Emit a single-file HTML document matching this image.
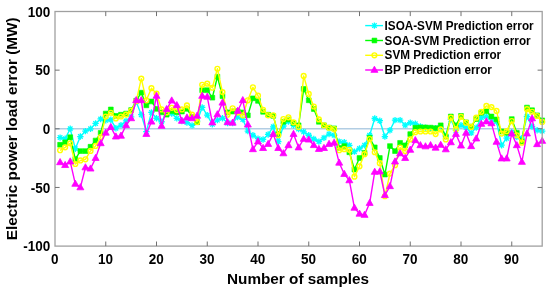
<!DOCTYPE html>
<html><head><meta charset="utf-8"><style>
html,body{margin:0;padding:0;background:#fff;}
svg{display:block;}
text{font-family:'Liberation Sans',Arial,sans-serif;font-weight:bold;fill:#000;}
</style></head><body>
<svg width="550" height="292" viewBox="0 0 550 292">
<rect width="550" height="292" fill="#fff"/>
<line x1="55.0" y1="128.80" x2="542.2" y2="128.80" stroke="#b2cde3" stroke-width="1.6"/>
<polyline points="60.08,137.60 65.15,138.77 70.22,128.80 75.30,148.74 80.38,136.54 85.45,131.15 90.53,128.80 95.60,123.40 100.68,118.95 105.75,120.24 110.83,119.77 115.90,128.21 120.98,125.16 126.05,120.94 131.12,116.84 136.20,101.82 141.28,114.72 146.35,131.62 151.43,112.38 156.50,118.24 161.57,121.76 166.65,112.38 171.73,113.43 176.80,118.36 181.88,120.94 186.95,122.58 192.03,125.40 197.10,121.18 202.18,107.45 207.25,115.08 212.33,124.34 217.40,120.12 222.47,118.24 227.55,122.94 232.62,122.94 237.70,117.07 242.78,119.42 247.85,131.03 252.93,135.25 258.00,138.65 263.08,139.47 268.15,134.43 273.23,126.81 278.30,141.70 283.38,125.98 288.45,121.53 293.52,125.28 298.60,129.03 303.68,131.85 308.75,135.25 313.82,139.01 318.90,141.59 323.98,137.83 329.05,134.08 334.12,135.25 339.20,141.59 344.28,142.29 349.35,145.34 354.43,151.67 359.50,148.51 364.57,145.34 369.65,135.25 374.73,118.48 379.80,120.71 384.88,136.54 389.95,130.21 395.03,120.12 400.10,120.12 405.18,125.16 410.25,122.70 415.32,123.76 420.40,126.45 425.48,127.63 430.55,128.21 435.62,128.21 440.70,127.04 445.78,135.84 450.85,119.42 455.93,130.44 461.00,125.28 466.07,127.63 471.15,132.91 476.23,127.63 481.30,117.77 486.38,116.48 491.45,119.42 496.53,121.76 501.60,145.22 506.68,138.18 511.75,132.32 516.83,137.01 521.90,138.18 526.98,116.48 532.05,126.45 537.12,130.32 542.20,131.15" fill="none" stroke="#00ffff" stroke-width="1.4" stroke-linejoin="round"/>
<path d="M56.88,137.60h6.40M60.08,134.40v6.40M57.81,135.33l4.53,4.53M57.81,139.86l4.53,-4.53M61.95,138.77h6.40M65.15,135.57v6.40M62.89,136.51l4.53,4.53M62.89,141.03l4.53,-4.53M67.02,128.80h6.40M70.22,125.60v6.40M67.96,126.54l4.53,4.53M67.96,131.06l4.53,-4.53M72.10,148.74h6.40M75.30,145.54v6.40M73.04,146.48l4.53,4.53M73.04,151.00l4.53,-4.53M77.17,136.54h6.40M80.38,133.34v6.40M78.11,134.28l4.53,4.53M78.11,138.80l4.53,-4.53M82.25,131.15h6.40M85.45,127.95v6.40M83.19,128.88l4.53,4.53M83.19,133.41l4.53,-4.53M87.33,128.80h6.40M90.53,125.60v6.40M88.26,126.54l4.53,4.53M88.26,131.06l4.53,-4.53M92.40,123.40h6.40M95.60,120.20v6.40M93.34,121.14l4.53,4.53M93.34,125.67l4.53,-4.53M97.48,118.95h6.40M100.68,115.75v6.40M98.41,116.68l4.53,4.53M98.41,121.21l4.53,-4.53M102.55,120.24h6.40M105.75,117.04v6.40M103.49,117.97l4.53,4.53M103.49,122.50l4.53,-4.53M107.62,119.77h6.40M110.83,116.57v6.40M108.56,117.51l4.53,4.53M108.56,122.03l4.53,-4.53M112.70,128.21h6.40M115.90,125.01v6.40M113.64,125.95l4.53,4.53M113.64,130.48l4.53,-4.53M117.78,125.16h6.40M120.98,121.96v6.40M118.71,122.90l4.53,4.53M118.71,127.43l4.53,-4.53M122.85,120.94h6.40M126.05,117.74v6.40M123.79,118.68l4.53,4.53M123.79,123.20l4.53,-4.53M127.92,116.84h6.40M131.12,113.64v6.40M128.86,114.57l4.53,4.53M128.86,119.10l4.53,-4.53M133.00,101.82h6.40M136.20,98.62v6.40M133.94,99.56l4.53,4.53M133.94,104.08l4.53,-4.53M138.08,114.72h6.40M141.28,111.52v6.40M139.01,112.46l4.53,4.53M139.01,116.99l4.53,-4.53M143.15,131.62h6.40M146.35,128.42v6.40M144.09,129.35l4.53,4.53M144.09,133.88l4.53,-4.53M148.23,112.38h6.40M151.43,109.18v6.40M149.16,110.12l4.53,4.53M149.16,114.64l4.53,-4.53M153.30,118.24h6.40M156.50,115.04v6.40M154.24,115.98l4.53,4.53M154.24,120.51l4.53,-4.53M158.38,121.76h6.40M161.57,118.56v6.40M159.31,119.50l4.53,4.53M159.31,124.02l4.53,-4.53M163.45,112.38h6.40M166.65,109.18v6.40M164.39,110.12l4.53,4.53M164.39,114.64l4.53,-4.53M168.53,113.43h6.40M171.73,110.23v6.40M169.46,111.17l4.53,4.53M169.46,115.70l4.53,-4.53M173.60,118.36h6.40M176.80,115.16v6.40M174.54,116.10l4.53,4.53M174.54,120.62l4.53,-4.53M178.68,120.94h6.40M181.88,117.74v6.40M179.61,118.68l4.53,4.53M179.61,123.20l4.53,-4.53M183.75,122.58h6.40M186.95,119.38v6.40M184.69,120.32l4.53,4.53M184.69,124.85l4.53,-4.53M188.83,125.40h6.40M192.03,122.20v6.40M189.76,123.14l4.53,4.53M189.76,127.66l4.53,-4.53M193.90,121.18h6.40M197.10,117.98v6.40M194.84,118.91l4.53,4.53M194.84,123.44l4.53,-4.53M198.98,107.45h6.40M202.18,104.25v6.40M199.91,105.19l4.53,4.53M199.91,109.71l4.53,-4.53M204.05,115.08h6.40M207.25,111.88v6.40M204.99,112.81l4.53,4.53M204.99,117.34l4.53,-4.53M209.13,124.34h6.40M212.33,121.14v6.40M210.06,122.08l4.53,4.53M210.06,126.61l4.53,-4.53M214.20,120.12h6.40M217.40,116.92v6.40M215.14,117.86l4.53,4.53M215.14,122.38l4.53,-4.53M219.28,118.24h6.40M222.47,115.04v6.40M220.21,115.98l4.53,4.53M220.21,120.51l4.53,-4.53M224.35,122.94h6.40M227.55,119.74v6.40M225.29,120.67l4.53,4.53M225.29,125.20l4.53,-4.53M229.43,122.94h6.40M232.62,119.74v6.40M230.36,120.67l4.53,4.53M230.36,125.20l4.53,-4.53M234.50,117.07h6.40M237.70,113.87v6.40M235.44,114.81l4.53,4.53M235.44,119.33l4.53,-4.53M239.58,119.42h6.40M242.78,116.22v6.40M240.51,117.15l4.53,4.53M240.51,121.68l4.53,-4.53M244.65,131.03h6.40M247.85,127.83v6.40M245.59,128.77l4.53,4.53M245.59,133.29l4.53,-4.53M249.73,135.25h6.40M252.93,132.05v6.40M250.66,132.99l4.53,4.53M250.66,137.51l4.53,-4.53M254.80,138.65h6.40M258.00,135.45v6.40M255.74,136.39l4.53,4.53M255.74,140.92l4.53,-4.53M259.88,139.47h6.40M263.08,136.27v6.40M260.81,137.21l4.53,4.53M260.81,141.74l4.53,-4.53M264.95,134.43h6.40M268.15,131.23v6.40M265.89,132.17l4.53,4.53M265.89,136.69l4.53,-4.53M270.03,126.81h6.40M273.23,123.61v6.40M270.96,124.54l4.53,4.53M270.96,129.07l4.53,-4.53M275.10,141.70h6.40M278.30,138.50v6.40M276.04,139.44l4.53,4.53M276.04,143.97l4.53,-4.53M280.18,125.98h6.40M283.38,122.78v6.40M281.11,123.72l4.53,4.53M281.11,128.25l4.53,-4.53M285.25,121.53h6.40M288.45,118.33v6.40M286.19,119.26l4.53,4.53M286.19,123.79l4.53,-4.53M290.32,125.28h6.40M293.52,122.08v6.40M291.26,123.02l4.53,4.53M291.26,127.54l4.53,-4.53M295.40,129.03h6.40M298.60,125.83v6.40M296.34,126.77l4.53,4.53M296.34,131.30l4.53,-4.53M300.48,131.85h6.40M303.68,128.65v6.40M301.41,129.59l4.53,4.53M301.41,134.11l4.53,-4.53M305.55,135.25h6.40M308.75,132.05v6.40M306.49,132.99l4.53,4.53M306.49,137.51l4.53,-4.53M310.62,139.01h6.40M313.82,135.81v6.40M311.56,136.74l4.53,4.53M311.56,141.27l4.53,-4.53M315.70,141.59h6.40M318.90,138.39v6.40M316.64,139.32l4.53,4.53M316.64,143.85l4.53,-4.53M320.78,137.83h6.40M323.98,134.63v6.40M321.71,135.57l4.53,4.53M321.71,140.09l4.53,-4.53M325.85,134.08h6.40M329.05,130.88v6.40M326.79,131.82l4.53,4.53M326.79,136.34l4.53,-4.53M330.93,135.25h6.40M334.12,132.05v6.40M331.86,132.99l4.53,4.53M331.86,137.51l4.53,-4.53M336.00,141.59h6.40M339.20,138.39v6.40M336.94,139.32l4.53,4.53M336.94,143.85l4.53,-4.53M341.08,142.29h6.40M344.28,139.09v6.40M342.01,140.03l4.53,4.53M342.01,144.55l4.53,-4.53M346.15,145.34h6.40M349.35,142.14v6.40M347.09,143.08l4.53,4.53M347.09,147.60l4.53,-4.53M351.23,151.67h6.40M354.43,148.47v6.40M352.16,149.41l4.53,4.53M352.16,153.94l4.53,-4.53M356.30,148.51h6.40M359.50,145.31v6.40M357.24,146.24l4.53,4.53M357.24,150.77l4.53,-4.53M361.38,145.34h6.40M364.57,142.14v6.40M362.31,143.08l4.53,4.53M362.31,147.60l4.53,-4.53M366.45,135.25h6.40M369.65,132.05v6.40M367.39,132.99l4.53,4.53M367.39,137.51l4.53,-4.53M371.53,118.48h6.40M374.73,115.28v6.40M372.46,116.21l4.53,4.53M372.46,120.74l4.53,-4.53M376.60,120.71h6.40M379.80,117.51v6.40M377.54,118.44l4.53,4.53M377.54,122.97l4.53,-4.53M381.68,136.54h6.40M384.88,133.34v6.40M382.61,134.28l4.53,4.53M382.61,138.80l4.53,-4.53M386.75,130.21h6.40M389.95,127.01v6.40M387.69,127.94l4.53,4.53M387.69,132.47l4.53,-4.53M391.83,120.12h6.40M395.03,116.92v6.40M392.76,117.86l4.53,4.53M392.76,122.38l4.53,-4.53M396.90,120.12h6.40M400.10,116.92v6.40M397.84,117.86l4.53,4.53M397.84,122.38l4.53,-4.53M401.98,125.16h6.40M405.18,121.96v6.40M402.91,122.90l4.53,4.53M402.91,127.43l4.53,-4.53M407.05,122.70h6.40M410.25,119.50v6.40M407.99,120.44l4.53,4.53M407.99,124.96l4.53,-4.53M412.12,123.76h6.40M415.32,120.56v6.40M413.06,121.49l4.53,4.53M413.06,126.02l4.53,-4.53M417.20,126.45h6.40M420.40,123.25v6.40M418.14,124.19l4.53,4.53M418.14,128.72l4.53,-4.53M422.28,127.63h6.40M425.48,124.43v6.40M423.21,125.36l4.53,4.53M423.21,129.89l4.53,-4.53M427.35,128.21h6.40M430.55,125.01v6.40M428.29,125.95l4.53,4.53M428.29,130.48l4.53,-4.53M432.43,128.21h6.40M435.62,125.01v6.40M433.36,125.95l4.53,4.53M433.36,130.48l4.53,-4.53M437.50,127.04h6.40M440.70,123.84v6.40M438.44,124.78l4.53,4.53M438.44,129.30l4.53,-4.53M442.58,135.84h6.40M445.78,132.64v6.40M443.51,133.58l4.53,4.53M443.51,138.10l4.53,-4.53M447.65,119.42h6.40M450.85,116.22v6.40M448.59,117.15l4.53,4.53M448.59,121.68l4.53,-4.53M452.73,130.44h6.40M455.93,127.24v6.40M453.66,128.18l4.53,4.53M453.66,132.70l4.53,-4.53M457.80,125.28h6.40M461.00,122.08v6.40M458.74,123.02l4.53,4.53M458.74,127.54l4.53,-4.53M462.88,127.63h6.40M466.07,124.43v6.40M463.81,125.36l4.53,4.53M463.81,129.89l4.53,-4.53M467.95,132.91h6.40M471.15,129.71v6.40M468.89,130.64l4.53,4.53M468.89,135.17l4.53,-4.53M473.03,127.63h6.40M476.23,124.43v6.40M473.96,125.36l4.53,4.53M473.96,129.89l4.53,-4.53M478.10,117.77h6.40M481.30,114.57v6.40M479.04,115.51l4.53,4.53M479.04,120.04l4.53,-4.53M483.18,116.48h6.40M486.38,113.28v6.40M484.11,114.22l4.53,4.53M484.11,118.75l4.53,-4.53M488.25,119.42h6.40M491.45,116.22v6.40M489.19,117.15l4.53,4.53M489.19,121.68l4.53,-4.53M493.33,121.76h6.40M496.53,118.56v6.40M494.26,119.50l4.53,4.53M494.26,124.02l4.53,-4.53M498.40,145.22h6.40M501.60,142.02v6.40M499.34,142.96l4.53,4.53M499.34,147.48l4.53,-4.53M503.48,138.18h6.40M506.68,134.98v6.40M504.41,135.92l4.53,4.53M504.41,140.45l4.53,-4.53M508.55,132.32h6.40M511.75,129.12v6.40M509.49,130.06l4.53,4.53M509.49,134.58l4.53,-4.53M513.62,137.01h6.40M516.83,133.81v6.40M514.56,134.75l4.53,4.53M514.56,139.27l4.53,-4.53M518.70,138.18h6.40M521.90,134.98v6.40M519.64,135.92l4.53,4.53M519.64,140.45l4.53,-4.53M523.77,116.48h6.40M526.98,113.28v6.40M524.71,114.22l4.53,4.53M524.71,118.75l4.53,-4.53M528.85,126.45h6.40M532.05,123.25v6.40M529.79,124.19l4.53,4.53M529.79,128.72l4.53,-4.53M533.92,130.32h6.40M537.12,127.12v6.40M534.86,128.06l4.53,4.53M534.86,132.59l4.53,-4.53M539.00,131.15h6.40M542.20,127.95v6.40M539.94,128.88l4.53,4.53M539.94,133.41l4.53,-4.53" stroke="#00ffff" stroke-width="1.3" fill="none"/>
<polyline points="60.08,144.75 65.15,142.29 70.22,137.25 75.30,159.06 80.38,151.09 85.45,151.09 90.53,146.75 95.60,140.53 100.68,132.91 105.75,113.55 110.83,109.45 115.90,115.90 120.98,114.72 126.05,113.55 131.12,110.03 136.20,100.65 141.28,92.67 146.35,105.34 151.43,101.47 156.50,108.86 161.57,112.38 166.65,114.72 171.73,111.21 176.80,112.38 181.88,111.56 186.95,108.86 192.03,117.07 197.10,122.23 202.18,90.21 207.25,90.21 212.33,97.72 217.40,76.72 222.47,96.07 227.55,112.38 232.62,111.56 237.70,111.21 242.78,112.38 247.85,115.31 252.93,98.30 258.00,100.88 263.08,111.79 268.15,114.72 273.23,115.90 278.30,134.08 283.38,121.76 288.45,119.42 293.52,122.94 298.60,125.28 303.68,88.92 308.75,100.30 313.82,108.98 318.90,121.76 323.98,125.28 329.05,127.63 334.12,128.33 339.20,147.80 344.28,146.04 349.35,152.26 354.43,169.50 359.50,158.01 364.57,152.85 369.65,137.83 374.73,147.33 379.80,158.01 384.88,174.55 389.95,146.04 395.03,151.09 400.10,142.88 405.18,145.34 410.25,134.08 415.32,127.74 420.40,127.39 425.48,127.39 430.55,127.63 435.62,128.21 440.70,125.28 445.78,136.54 450.85,116.48 455.93,125.28 461.00,115.90 466.07,122.35 471.15,126.57 476.23,119.06 481.30,112.85 486.38,111.21 491.45,116.48 496.53,119.42 501.60,131.50 506.68,132.79 511.75,119.06 516.83,132.79 521.90,141.59 526.98,107.57 532.05,110.27 537.12,115.31 542.20,120.35" fill="none" stroke="#00ff00" stroke-width="1.4" stroke-linejoin="round"/>
<path d="M57.68,142.35h4.80v4.80h-4.80zM62.75,139.89h4.80v4.80h-4.80zM67.82,134.85h4.80v4.80h-4.80zM72.90,156.66h4.80v4.80h-4.80zM77.97,148.69h4.80v4.80h-4.80zM83.05,148.69h4.80v4.80h-4.80zM88.12,144.35h4.80v4.80h-4.80zM93.20,138.13h4.80v4.80h-4.80zM98.28,130.51h4.80v4.80h-4.80zM103.35,111.15h4.80v4.80h-4.80zM108.42,107.05h4.80v4.80h-4.80zM113.50,113.50h4.80v4.80h-4.80zM118.58,112.32h4.80v4.80h-4.80zM123.65,111.15h4.80v4.80h-4.80zM128.72,107.63h4.80v4.80h-4.80zM133.80,98.25h4.80v4.80h-4.80zM138.88,90.27h4.80v4.80h-4.80zM143.95,102.94h4.80v4.80h-4.80zM149.03,99.07h4.80v4.80h-4.80zM154.10,106.46h4.80v4.80h-4.80zM159.17,109.98h4.80v4.80h-4.80zM164.25,112.32h4.80v4.80h-4.80zM169.33,108.81h4.80v4.80h-4.80zM174.40,109.98h4.80v4.80h-4.80zM179.47,109.16h4.80v4.80h-4.80zM184.55,106.46h4.80v4.80h-4.80zM189.62,114.67h4.80v4.80h-4.80zM194.70,119.83h4.80v4.80h-4.80zM199.78,87.81h4.80v4.80h-4.80zM204.85,87.81h4.80v4.80h-4.80zM209.93,95.32h4.80v4.80h-4.80zM215.00,74.32h4.80v4.80h-4.80zM220.07,93.67h4.80v4.80h-4.80zM225.15,109.98h4.80v4.80h-4.80zM230.22,109.16h4.80v4.80h-4.80zM235.30,108.81h4.80v4.80h-4.80zM240.38,109.98h4.80v4.80h-4.80zM245.45,112.91h4.80v4.80h-4.80zM250.53,95.90h4.80v4.80h-4.80zM255.60,98.48h4.80v4.80h-4.80zM260.68,109.39h4.80v4.80h-4.80zM265.75,112.32h4.80v4.80h-4.80zM270.83,113.50h4.80v4.80h-4.80zM275.90,131.68h4.80v4.80h-4.80zM280.98,119.36h4.80v4.80h-4.80zM286.05,117.02h4.80v4.80h-4.80zM291.12,120.54h4.80v4.80h-4.80zM296.20,122.88h4.80v4.80h-4.80zM301.28,86.52h4.80v4.80h-4.80zM306.35,97.90h4.80v4.80h-4.80zM311.43,106.58h4.80v4.80h-4.80zM316.50,119.36h4.80v4.80h-4.80zM321.58,122.88h4.80v4.80h-4.80zM326.65,125.23h4.80v4.80h-4.80zM331.73,125.93h4.80v4.80h-4.80zM336.80,145.40h4.80v4.80h-4.80zM341.88,143.64h4.80v4.80h-4.80zM346.95,149.86h4.80v4.80h-4.80zM352.03,167.10h4.80v4.80h-4.80zM357.10,155.61h4.80v4.80h-4.80zM362.18,150.45h4.80v4.80h-4.80zM367.25,135.43h4.80v4.80h-4.80zM372.33,144.93h4.80v4.80h-4.80zM377.40,155.61h4.80v4.80h-4.80zM382.48,172.15h4.80v4.80h-4.80zM387.55,143.64h4.80v4.80h-4.80zM392.63,148.69h4.80v4.80h-4.80zM397.70,140.48h4.80v4.80h-4.80zM402.78,142.94h4.80v4.80h-4.80zM407.85,131.68h4.80v4.80h-4.80zM412.93,125.34h4.80v4.80h-4.80zM418.00,124.99h4.80v4.80h-4.80zM423.08,124.99h4.80v4.80h-4.80zM428.15,125.23h4.80v4.80h-4.80zM433.23,125.81h4.80v4.80h-4.80zM438.30,122.88h4.80v4.80h-4.80zM443.38,134.14h4.80v4.80h-4.80zM448.45,114.08h4.80v4.80h-4.80zM453.53,122.88h4.80v4.80h-4.80zM458.60,113.50h4.80v4.80h-4.80zM463.68,119.95h4.80v4.80h-4.80zM468.75,124.17h4.80v4.80h-4.80zM473.83,116.66h4.80v4.80h-4.80zM478.90,110.45h4.80v4.80h-4.80zM483.98,108.81h4.80v4.80h-4.80zM489.05,114.08h4.80v4.80h-4.80zM494.13,117.02h4.80v4.80h-4.80zM499.20,129.10h4.80v4.80h-4.80zM504.28,130.39h4.80v4.80h-4.80zM509.35,116.66h4.80v4.80h-4.80zM514.43,130.39h4.80v4.80h-4.80zM519.50,139.19h4.80v4.80h-4.80zM524.58,105.17h4.80v4.80h-4.80zM529.65,107.87h4.80v4.80h-4.80zM534.73,112.91h4.80v4.80h-4.80zM539.80,117.95h4.80v4.80h-4.80z" fill="#00ff00" stroke="#00ff00" stroke-width="0.6"/>
<polyline points="60.08,150.27 65.15,147.33 70.22,143.35 75.30,163.99 80.38,160.47 85.45,159.30 90.53,150.97 95.60,145.93 100.68,137.01 105.75,116.48 110.83,112.73 115.90,118.48 120.98,116.48 126.05,114.61 131.12,110.74 136.20,101.23 141.28,78.60 146.35,100.30 151.43,88.21 156.50,93.61 161.57,109.45 166.65,112.38 171.73,107.80 176.80,110.03 181.88,109.45 186.95,105.34 192.03,114.72 197.10,122.00 202.18,84.81 207.25,83.64 212.33,87.75 217.40,68.74 222.47,92.09 227.55,114.72 232.62,108.27 237.70,112.38 242.78,115.31 247.85,100.30 252.93,87.28 258.00,95.72 263.08,109.80 268.15,115.31 273.23,115.31 278.30,135.25 283.38,119.06 288.45,117.30 293.52,122.35 298.60,127.04 303.68,75.90 308.75,93.96 313.82,106.51 318.90,119.42 323.98,125.28 329.05,127.74 334.12,129.03 339.20,150.27 344.28,149.21 349.35,149.80 354.43,176.66 359.50,166.34 364.57,154.14 369.65,139.01 374.73,152.26 379.80,163.17 384.88,196.25 389.95,173.61 395.03,165.16 400.10,147.57 405.18,151.09 410.25,139.36 415.32,132.20 420.40,131.50 425.48,131.50 430.55,131.50 435.62,134.08 440.70,129.39 445.78,139.47 450.85,117.66 455.93,129.15 461.00,116.84 466.07,122.70 471.15,126.92 476.23,117.66 481.30,111.79 486.38,105.93 491.45,107.10 496.53,110.97 501.60,133.61 506.68,131.15 511.75,121.06 516.83,135.25 521.90,142.64 526.98,109.21 532.05,111.79 537.12,116.01 542.20,121.88" fill="none" stroke="#ffff00" stroke-width="1.4" stroke-linejoin="round"/>
<circle cx="60.08" cy="150.27" r="2.4" fill="none" stroke="#ffff00" stroke-width="1.4"/><circle cx="65.15" cy="147.33" r="2.4" fill="none" stroke="#ffff00" stroke-width="1.4"/><circle cx="70.22" cy="143.35" r="2.4" fill="none" stroke="#ffff00" stroke-width="1.4"/><circle cx="75.30" cy="163.99" r="2.4" fill="none" stroke="#ffff00" stroke-width="1.4"/><circle cx="80.38" cy="160.47" r="2.4" fill="none" stroke="#ffff00" stroke-width="1.4"/><circle cx="85.45" cy="159.30" r="2.4" fill="none" stroke="#ffff00" stroke-width="1.4"/><circle cx="90.53" cy="150.97" r="2.4" fill="none" stroke="#ffff00" stroke-width="1.4"/><circle cx="95.60" cy="145.93" r="2.4" fill="none" stroke="#ffff00" stroke-width="1.4"/><circle cx="100.68" cy="137.01" r="2.4" fill="none" stroke="#ffff00" stroke-width="1.4"/><circle cx="105.75" cy="116.48" r="2.4" fill="none" stroke="#ffff00" stroke-width="1.4"/><circle cx="110.83" cy="112.73" r="2.4" fill="none" stroke="#ffff00" stroke-width="1.4"/><circle cx="115.90" cy="118.48" r="2.4" fill="none" stroke="#ffff00" stroke-width="1.4"/><circle cx="120.98" cy="116.48" r="2.4" fill="none" stroke="#ffff00" stroke-width="1.4"/><circle cx="126.05" cy="114.61" r="2.4" fill="none" stroke="#ffff00" stroke-width="1.4"/><circle cx="131.12" cy="110.74" r="2.4" fill="none" stroke="#ffff00" stroke-width="1.4"/><circle cx="136.20" cy="101.23" r="2.4" fill="none" stroke="#ffff00" stroke-width="1.4"/><circle cx="141.28" cy="78.60" r="2.4" fill="none" stroke="#ffff00" stroke-width="1.4"/><circle cx="146.35" cy="100.30" r="2.4" fill="none" stroke="#ffff00" stroke-width="1.4"/><circle cx="151.43" cy="88.21" r="2.4" fill="none" stroke="#ffff00" stroke-width="1.4"/><circle cx="156.50" cy="93.61" r="2.4" fill="none" stroke="#ffff00" stroke-width="1.4"/><circle cx="161.57" cy="109.45" r="2.4" fill="none" stroke="#ffff00" stroke-width="1.4"/><circle cx="166.65" cy="112.38" r="2.4" fill="none" stroke="#ffff00" stroke-width="1.4"/><circle cx="171.73" cy="107.80" r="2.4" fill="none" stroke="#ffff00" stroke-width="1.4"/><circle cx="176.80" cy="110.03" r="2.4" fill="none" stroke="#ffff00" stroke-width="1.4"/><circle cx="181.88" cy="109.45" r="2.4" fill="none" stroke="#ffff00" stroke-width="1.4"/><circle cx="186.95" cy="105.34" r="2.4" fill="none" stroke="#ffff00" stroke-width="1.4"/><circle cx="192.03" cy="114.72" r="2.4" fill="none" stroke="#ffff00" stroke-width="1.4"/><circle cx="197.10" cy="122.00" r="2.4" fill="none" stroke="#ffff00" stroke-width="1.4"/><circle cx="202.18" cy="84.81" r="2.4" fill="none" stroke="#ffff00" stroke-width="1.4"/><circle cx="207.25" cy="83.64" r="2.4" fill="none" stroke="#ffff00" stroke-width="1.4"/><circle cx="212.33" cy="87.75" r="2.4" fill="none" stroke="#ffff00" stroke-width="1.4"/><circle cx="217.40" cy="68.74" r="2.4" fill="none" stroke="#ffff00" stroke-width="1.4"/><circle cx="222.47" cy="92.09" r="2.4" fill="none" stroke="#ffff00" stroke-width="1.4"/><circle cx="227.55" cy="114.72" r="2.4" fill="none" stroke="#ffff00" stroke-width="1.4"/><circle cx="232.62" cy="108.27" r="2.4" fill="none" stroke="#ffff00" stroke-width="1.4"/><circle cx="237.70" cy="112.38" r="2.4" fill="none" stroke="#ffff00" stroke-width="1.4"/><circle cx="242.78" cy="115.31" r="2.4" fill="none" stroke="#ffff00" stroke-width="1.4"/><circle cx="247.85" cy="100.30" r="2.4" fill="none" stroke="#ffff00" stroke-width="1.4"/><circle cx="252.93" cy="87.28" r="2.4" fill="none" stroke="#ffff00" stroke-width="1.4"/><circle cx="258.00" cy="95.72" r="2.4" fill="none" stroke="#ffff00" stroke-width="1.4"/><circle cx="263.08" cy="109.80" r="2.4" fill="none" stroke="#ffff00" stroke-width="1.4"/><circle cx="268.15" cy="115.31" r="2.4" fill="none" stroke="#ffff00" stroke-width="1.4"/><circle cx="273.23" cy="115.31" r="2.4" fill="none" stroke="#ffff00" stroke-width="1.4"/><circle cx="278.30" cy="135.25" r="2.4" fill="none" stroke="#ffff00" stroke-width="1.4"/><circle cx="283.38" cy="119.06" r="2.4" fill="none" stroke="#ffff00" stroke-width="1.4"/><circle cx="288.45" cy="117.30" r="2.4" fill="none" stroke="#ffff00" stroke-width="1.4"/><circle cx="293.52" cy="122.35" r="2.4" fill="none" stroke="#ffff00" stroke-width="1.4"/><circle cx="298.60" cy="127.04" r="2.4" fill="none" stroke="#ffff00" stroke-width="1.4"/><circle cx="303.68" cy="75.90" r="2.4" fill="none" stroke="#ffff00" stroke-width="1.4"/><circle cx="308.75" cy="93.96" r="2.4" fill="none" stroke="#ffff00" stroke-width="1.4"/><circle cx="313.82" cy="106.51" r="2.4" fill="none" stroke="#ffff00" stroke-width="1.4"/><circle cx="318.90" cy="119.42" r="2.4" fill="none" stroke="#ffff00" stroke-width="1.4"/><circle cx="323.98" cy="125.28" r="2.4" fill="none" stroke="#ffff00" stroke-width="1.4"/><circle cx="329.05" cy="127.74" r="2.4" fill="none" stroke="#ffff00" stroke-width="1.4"/><circle cx="334.12" cy="129.03" r="2.4" fill="none" stroke="#ffff00" stroke-width="1.4"/><circle cx="339.20" cy="150.27" r="2.4" fill="none" stroke="#ffff00" stroke-width="1.4"/><circle cx="344.28" cy="149.21" r="2.4" fill="none" stroke="#ffff00" stroke-width="1.4"/><circle cx="349.35" cy="149.80" r="2.4" fill="none" stroke="#ffff00" stroke-width="1.4"/><circle cx="354.43" cy="176.66" r="2.4" fill="none" stroke="#ffff00" stroke-width="1.4"/><circle cx="359.50" cy="166.34" r="2.4" fill="none" stroke="#ffff00" stroke-width="1.4"/><circle cx="364.57" cy="154.14" r="2.4" fill="none" stroke="#ffff00" stroke-width="1.4"/><circle cx="369.65" cy="139.01" r="2.4" fill="none" stroke="#ffff00" stroke-width="1.4"/><circle cx="374.73" cy="152.26" r="2.4" fill="none" stroke="#ffff00" stroke-width="1.4"/><circle cx="379.80" cy="163.17" r="2.4" fill="none" stroke="#ffff00" stroke-width="1.4"/><circle cx="384.88" cy="196.25" r="2.4" fill="none" stroke="#ffff00" stroke-width="1.4"/><circle cx="389.95" cy="173.61" r="2.4" fill="none" stroke="#ffff00" stroke-width="1.4"/><circle cx="395.03" cy="165.16" r="2.4" fill="none" stroke="#ffff00" stroke-width="1.4"/><circle cx="400.10" cy="147.57" r="2.4" fill="none" stroke="#ffff00" stroke-width="1.4"/><circle cx="405.18" cy="151.09" r="2.4" fill="none" stroke="#ffff00" stroke-width="1.4"/><circle cx="410.25" cy="139.36" r="2.4" fill="none" stroke="#ffff00" stroke-width="1.4"/><circle cx="415.32" cy="132.20" r="2.4" fill="none" stroke="#ffff00" stroke-width="1.4"/><circle cx="420.40" cy="131.50" r="2.4" fill="none" stroke="#ffff00" stroke-width="1.4"/><circle cx="425.48" cy="131.50" r="2.4" fill="none" stroke="#ffff00" stroke-width="1.4"/><circle cx="430.55" cy="131.50" r="2.4" fill="none" stroke="#ffff00" stroke-width="1.4"/><circle cx="435.62" cy="134.08" r="2.4" fill="none" stroke="#ffff00" stroke-width="1.4"/><circle cx="440.70" cy="129.39" r="2.4" fill="none" stroke="#ffff00" stroke-width="1.4"/><circle cx="445.78" cy="139.47" r="2.4" fill="none" stroke="#ffff00" stroke-width="1.4"/><circle cx="450.85" cy="117.66" r="2.4" fill="none" stroke="#ffff00" stroke-width="1.4"/><circle cx="455.93" cy="129.15" r="2.4" fill="none" stroke="#ffff00" stroke-width="1.4"/><circle cx="461.00" cy="116.84" r="2.4" fill="none" stroke="#ffff00" stroke-width="1.4"/><circle cx="466.07" cy="122.70" r="2.4" fill="none" stroke="#ffff00" stroke-width="1.4"/><circle cx="471.15" cy="126.92" r="2.4" fill="none" stroke="#ffff00" stroke-width="1.4"/><circle cx="476.23" cy="117.66" r="2.4" fill="none" stroke="#ffff00" stroke-width="1.4"/><circle cx="481.30" cy="111.79" r="2.4" fill="none" stroke="#ffff00" stroke-width="1.4"/><circle cx="486.38" cy="105.93" r="2.4" fill="none" stroke="#ffff00" stroke-width="1.4"/><circle cx="491.45" cy="107.10" r="2.4" fill="none" stroke="#ffff00" stroke-width="1.4"/><circle cx="496.53" cy="110.97" r="2.4" fill="none" stroke="#ffff00" stroke-width="1.4"/><circle cx="501.60" cy="133.61" r="2.4" fill="none" stroke="#ffff00" stroke-width="1.4"/><circle cx="506.68" cy="131.15" r="2.4" fill="none" stroke="#ffff00" stroke-width="1.4"/><circle cx="511.75" cy="121.06" r="2.4" fill="none" stroke="#ffff00" stroke-width="1.4"/><circle cx="516.83" cy="135.25" r="2.4" fill="none" stroke="#ffff00" stroke-width="1.4"/><circle cx="521.90" cy="142.64" r="2.4" fill="none" stroke="#ffff00" stroke-width="1.4"/><circle cx="526.98" cy="109.21" r="2.4" fill="none" stroke="#ffff00" stroke-width="1.4"/><circle cx="532.05" cy="111.79" r="2.4" fill="none" stroke="#ffff00" stroke-width="1.4"/><circle cx="537.12" cy="116.01" r="2.4" fill="none" stroke="#ffff00" stroke-width="1.4"/><circle cx="542.20" cy="121.88" r="2.4" fill="none" stroke="#ffff00" stroke-width="1.4"/>
<polyline points="60.08,162.35 65.15,165.16 70.22,161.64 75.30,183.93 80.38,187.45 85.45,167.51 90.53,168.68 95.60,158.12 100.68,143.35 105.75,132.79 110.83,127.16 115.90,136.66 120.98,135.84 126.05,125.28 131.12,118.36 136.20,100.30 141.28,100.30 146.35,134.08 151.43,121.76 156.50,95.96 161.57,125.98 166.65,109.21 171.73,100.65 176.80,105.34 181.88,120.94 186.95,117.66 192.03,118.36 197.10,115.90 202.18,95.96 207.25,96.89 212.33,122.58 217.40,114.49 222.47,102.76 227.55,122.35 232.62,122.82 237.70,110.97 242.78,100.30 247.85,124.69 252.93,149.33 258.00,141.59 263.08,148.15 268.15,144.05 273.23,134.08 278.30,148.15 283.38,153.43 288.45,145.34 293.52,134.08 298.60,147.57 303.68,139.01 308.75,139.71 313.82,145.22 318.90,149.09 323.98,148.15 329.05,144.05 334.12,142.88 339.20,162.82 344.28,174.08 349.35,180.41 354.43,207.86 359.50,213.84 364.57,215.02 369.65,203.05 374.73,171.97 379.80,171.61 384.88,195.19 389.95,186.28 395.03,161.64 400.10,153.43 405.18,158.12 410.25,149.91 415.32,140.30 420.40,145.34 425.48,146.51 430.55,145.34 435.62,147.80 440.70,144.99 445.78,149.44 450.85,142.41 455.93,134.08 461.00,145.69 466.07,132.91 471.15,146.28 476.23,138.65 481.30,123.99 486.38,121.53 491.45,123.40 496.53,141.94 501.60,158.59 506.68,158.59 511.75,133.61 516.83,145.34 521.90,162.00 526.98,133.61 532.05,118.48 537.12,144.28 542.20,141.00" fill="none" stroke="#ff00ff" stroke-width="1.4" stroke-linejoin="round"/>
<path d="M60.08,158.55L63.57,164.70L56.58,164.70zM65.15,161.36L68.65,167.52L61.65,167.52zM70.22,157.84L73.72,164.00L66.73,164.00zM75.30,180.13L78.80,186.29L71.80,186.29zM80.38,183.65L83.87,189.81L76.88,189.81zM85.45,163.71L88.95,169.87L81.95,169.87zM90.53,164.88L94.02,171.04L87.03,171.04zM95.60,154.32L99.10,160.48L92.10,160.48zM100.68,139.55L104.17,145.70L97.18,145.70zM105.75,128.99L109.25,135.14L102.25,135.14zM110.83,123.36L114.32,129.51L107.33,129.51zM115.90,132.86L119.40,139.02L112.40,139.02zM120.98,132.04L124.47,138.19L117.48,138.19zM126.05,121.48L129.55,127.64L122.55,127.64zM131.12,114.56L134.62,120.72L127.63,120.72zM136.20,96.50L139.70,102.65L132.70,102.65zM141.28,96.50L144.77,102.65L137.78,102.65zM146.35,130.28L149.85,136.43L142.85,136.43zM151.43,117.96L154.92,124.12L147.93,124.12zM156.50,92.16L160.00,98.31L153.00,98.31zM161.57,122.18L165.07,128.34L158.08,128.34zM166.65,105.41L170.15,111.57L163.15,111.57zM171.73,96.85L175.22,103.00L168.23,103.00zM176.80,101.54L180.30,107.70L173.30,107.70zM181.88,117.14L185.37,123.30L178.38,123.30zM186.95,113.86L190.45,120.01L183.45,120.01zM192.03,114.56L195.52,120.72L188.53,120.72zM197.10,112.10L200.60,118.25L193.60,118.25zM202.18,92.16L205.67,98.31L198.68,98.31zM207.25,93.09L210.75,99.25L203.75,99.25zM212.33,118.78L215.82,124.94L208.83,124.94zM217.40,110.69L220.90,116.85L213.90,116.85zM222.47,98.96L225.97,105.12L218.98,105.12zM227.55,118.55L231.05,124.70L224.05,124.70zM232.62,119.02L236.12,125.17L229.13,125.17zM237.70,107.17L241.20,113.33L234.20,113.33zM242.78,96.50L246.27,102.65L239.28,102.65zM247.85,120.89L251.35,127.05L244.35,127.05zM252.93,145.53L256.42,151.68L249.43,151.68zM258.00,137.79L261.50,143.94L254.50,143.94zM263.08,144.35L266.57,150.51L259.58,150.51zM268.15,140.25L271.65,146.41L264.65,146.41zM273.23,130.28L276.72,136.43L269.73,136.43zM278.30,144.35L281.80,150.51L274.80,150.51zM283.38,149.63L286.87,155.79L279.88,155.79zM288.45,141.54L291.95,147.70L284.95,147.70zM293.52,130.28L297.02,136.43L290.03,136.43zM298.60,143.77L302.10,149.92L295.10,149.92zM303.68,135.21L307.17,141.36L300.18,141.36zM308.75,135.91L312.25,142.06L305.25,142.06zM313.82,141.42L317.32,147.58L310.33,147.58zM318.90,145.29L322.40,151.45L315.40,151.45zM323.98,144.35L327.47,150.51L320.48,150.51zM329.05,140.25L332.55,146.41L325.55,146.41zM334.12,139.08L337.62,145.23L330.63,145.23zM339.20,159.02L342.70,165.17L335.70,165.17zM344.28,170.28L347.77,176.43L340.78,176.43zM349.35,176.61L352.85,182.77L345.85,182.77zM354.43,204.06L357.92,210.22L350.93,210.22zM359.50,210.04L363.00,216.20L356.00,216.20zM364.57,211.22L368.07,217.37L361.08,217.37zM369.65,199.25L373.15,205.41L366.15,205.41zM374.73,168.17L378.22,174.32L371.23,174.32zM379.80,167.81L383.30,173.97L376.30,173.97zM384.88,191.39L388.37,197.55L381.38,197.55zM389.95,182.48L393.45,188.63L386.45,188.63zM395.03,157.84L398.52,164.00L391.53,164.00zM400.10,149.63L403.60,155.79L396.60,155.79zM405.18,154.32L408.67,160.48L401.68,160.48zM410.25,146.11L413.75,152.27L406.75,152.27zM415.32,136.50L418.82,142.65L411.83,142.65zM420.40,141.54L423.90,147.70L416.90,147.70zM425.48,142.71L428.97,148.87L421.98,148.87zM430.55,141.54L434.05,147.70L427.05,147.70zM435.62,144.00L439.12,150.16L432.13,150.16zM440.70,141.19L444.20,147.34L437.20,147.34zM445.78,145.64L449.27,151.80L442.28,151.80zM450.85,138.61L454.35,144.76L447.35,144.76zM455.93,130.28L459.42,136.43L452.43,136.43zM461.00,141.89L464.50,148.05L457.50,148.05zM466.07,129.11L469.57,135.26L462.58,135.26zM471.15,142.48L474.65,148.63L467.65,148.63zM476.23,134.85L479.72,141.01L472.73,141.01zM481.30,120.19L484.80,126.35L477.80,126.35zM486.38,117.73L489.87,123.88L482.88,123.88zM491.45,119.60L494.95,125.76L487.95,125.76zM496.53,138.14L500.02,144.29L493.03,144.29zM501.60,154.79L505.10,160.95L498.10,160.95zM506.68,154.79L510.17,160.95L503.18,160.95zM511.75,129.81L515.25,135.97L508.25,135.97zM516.83,141.54L520.32,147.70L513.33,147.70zM521.90,158.20L525.40,164.35L518.40,164.35zM526.98,129.81L530.47,135.97L523.48,135.97zM532.05,114.68L535.55,120.83L528.55,120.83zM537.12,140.48L540.62,146.64L533.63,146.64zM542.20,137.20L545.70,143.36L538.70,143.36z" fill="#ff00ff" stroke="#ff00ff" stroke-width="0.8" stroke-linejoin="round"/>

<rect x="55.0" y="11.5" width="487.20" height="234.60" fill="none" stroke="#a0a0a0" stroke-width="1.3"/>
<path d="M105.75,246.1v-4.6M105.75,11.5v4.6M156.50,246.1v-4.6M156.50,11.5v4.6M207.25,246.1v-4.6M207.25,11.5v4.6M258.00,246.1v-4.6M258.00,11.5v4.6M308.75,246.1v-4.6M308.75,11.5v4.6M359.50,246.1v-4.6M359.50,11.5v4.6M410.25,246.1v-4.6M410.25,11.5v4.6M461.00,246.1v-4.6M461.00,11.5v4.6M511.75,246.1v-4.6M511.75,11.5v4.6M55.0,187.45h4.6M542.2,187.45h-4.6M55.0,128.80h4.6M542.2,128.80h-4.6M55.0,70.15h4.6M542.2,70.15h-4.6" stroke="#707070" stroke-width="1.0" fill="none"/>
<g style="font-size:14.6px"><text x="54.70" y="264.2" text-anchor="middle" textLength="7.51" lengthAdjust="spacingAndGlyphs">0</text><text x="105.45" y="264.2" text-anchor="middle" textLength="15.02" lengthAdjust="spacingAndGlyphs">10</text><text x="156.20" y="264.2" text-anchor="middle" textLength="15.02" lengthAdjust="spacingAndGlyphs">20</text><text x="206.95" y="264.2" text-anchor="middle" textLength="15.02" lengthAdjust="spacingAndGlyphs">30</text><text x="257.70" y="264.2" text-anchor="middle" textLength="15.02" lengthAdjust="spacingAndGlyphs">40</text><text x="308.45" y="264.2" text-anchor="middle" textLength="15.02" lengthAdjust="spacingAndGlyphs">50</text><text x="359.20" y="264.2" text-anchor="middle" textLength="15.02" lengthAdjust="spacingAndGlyphs">60</text><text x="409.95" y="264.2" text-anchor="middle" textLength="15.02" lengthAdjust="spacingAndGlyphs">70</text><text x="460.70" y="264.2" text-anchor="middle" textLength="15.02" lengthAdjust="spacingAndGlyphs">80</text><text x="511.45" y="264.2" text-anchor="middle" textLength="15.02" lengthAdjust="spacingAndGlyphs">90</text><text x="50.2" y="251.30" text-anchor="end" textLength="27.03" lengthAdjust="spacingAndGlyphs">-100</text><text x="50.2" y="192.65" text-anchor="end" textLength="19.52" lengthAdjust="spacingAndGlyphs">-50</text><text x="50.2" y="134.00" text-anchor="end" textLength="7.51" lengthAdjust="spacingAndGlyphs">0</text><text x="50.2" y="75.35" text-anchor="end" textLength="15.02" lengthAdjust="spacingAndGlyphs">50</text><text x="50.2" y="16.70" text-anchor="end" textLength="22.53" lengthAdjust="spacingAndGlyphs">100</text></g>
<text x="298" y="283.8" text-anchor="middle" style="font-size:15.3px" textLength="142" lengthAdjust="spacingAndGlyphs">Number of samples</text>
<text transform="translate(16.8,128.8) rotate(-90)" text-anchor="middle" style="font-size:14.4px" textLength="223" lengthAdjust="spacingAndGlyphs">Electric power load error (MW)</text>
<line x1="365.2" y1="25.6" x2="383" y2="25.6" stroke="#00ffff" stroke-width="1.4"/><path d="M371.20,25.60h6.40M374.40,22.40v6.40M372.14,23.34l4.53,4.53M372.14,27.86l4.53,-4.53" stroke="#00ffff" stroke-width="1.3" fill="none"/><text x="384.6" y="29.70" style="font-size:11.9px" textLength="149.0" lengthAdjust="spacingAndGlyphs">ISOA-SVM Prediction error</text><line x1="365.2" y1="40.5" x2="383" y2="40.5" stroke="#00ff00" stroke-width="1.4"/><path d="M372.00,38.10h4.80v4.80h-4.80z" fill="#00ff00" stroke="#00ff00" stroke-width="0.6"/><text x="384.6" y="44.60" style="font-size:11.9px" textLength="146.1" lengthAdjust="spacingAndGlyphs">SOA-SVM Prediction error</text><line x1="365.2" y1="55.3" x2="383" y2="55.3" stroke="#ffff00" stroke-width="1.4"/><circle cx="374.4" cy="55.3" r="2.4" fill="none" stroke="#ffff00" stroke-width="1.4"/><text x="384.6" y="59.40" style="font-size:11.9px" textLength="116.6" lengthAdjust="spacingAndGlyphs">SVM Prediction error</text><line x1="365.2" y1="70.0" x2="383" y2="70.0" stroke="#ff00ff" stroke-width="1.4"/><path d="M374.40,66.20L377.90,72.36L370.90,72.36z" fill="#ff00ff" stroke="#ff00ff" stroke-width="0.8"/><text x="384.6" y="74.10" style="font-size:11.9px" textLength="107.3" lengthAdjust="spacingAndGlyphs">BP Prediction error</text>
</svg>
</body></html>
